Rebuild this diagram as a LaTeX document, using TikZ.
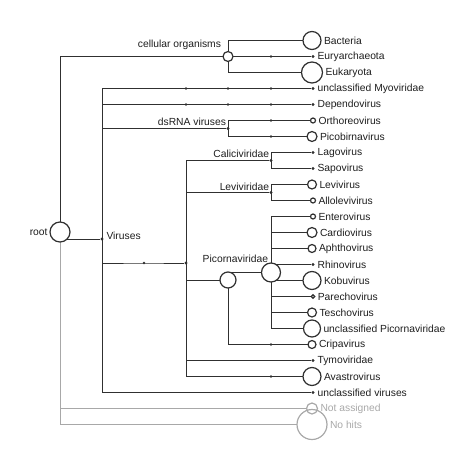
\documentclass[tikz,border=0pt]{standalone}
\usepackage{fontspec}
\setmainfont{Liberation Sans}
\definecolor{linec}{HTML}{303030}
\definecolor{txtc}{HTML}{1E1E1E}
\definecolor{grayc}{HTML}{A8A8A8}
\pgfdeclarelayer{bg}
\pgfsetlayers{bg,main}
\begin{document}
\begin{tikzpicture}[x=1pt,y=-1pt,
  every node/.style={inner sep=0pt, outer sep=0pt},
  label distance=3pt,
  tx/.style={font=\fontsize{10.3}{12}\selectfont, text=txtc},
  gtx/.style={font=\fontsize{10.3}{12}\selectfont, text=grayc},
  circ/.style={circle, draw=linec, fill=white, line width=1.2pt, minimum size=#1},
  gcirc/.style={circle, draw=grayc, line width=1.2pt, minimum size=#1},
  dotn/.style={circle, fill=linec, minimum size=3.2pt},
  tick/.style={circle, fill=linec, minimum size=2.8pt},
  lnk/.style={draw=linec, line width=1pt},
  glnk/.style={draw=grayc, line width=1pt},
]
\useasboundingbox (0,0) rectangle (474,474);

% internal nodes
\node[circ=20pt] (root) at (60,232) {};
\node[tx, anchor=east] (lroot) at (47.5,232) {root};
\node[circ=10pt] (cell) at (228,56.5) {};
\node[tx, anchor=east] (lcell) at (221,45) {cellular organisms};
\node[dotn] (vir) at (102,239) {};
\node[tx, anchor=west] (lvir) at (106.5,236) {Viruses};
\node[dotn] (dsrna) at (228,128.5) {};
\node[tx, anchor=east] (ldsrna) at (226,121.5) {dsRNA viruses};
\node[dotn] (ss) at (186,263) {};
\node[dotn] (calici) at (271,160.5) {};
\node[tx, anchor=east] (lcalici) at (269,154) {Caliciviridae};
\node[dotn] (levi) at (271,192.5) {};
\node[tx, anchor=east] (llevi) at (269,187) {Leviviridae};
\node[circ=16pt] (picales) at (228,280) {};
\node[circ=19pt] (picdae) at (271,272.5) {};
\node[tx, anchor=east] (lpicdae) at (268,258.5) {Picornaviridae};

% leaves
\node[circ=18pt, label={[tx]right:Bacteria}] (bact) at (312,40.5) {};
\node[dotn, label={[tx]right:Euryarchaeota}] (eury) at (313,56.5) {};
\node[circ=21pt, label={[tx]right:Eukaryota}] (euk) at (312,72.5) {};
\node[dotn, label={[tx]right:unclassified Myoviridae}] (umyo) at (313,88.5) {};
\node[dotn, label={[tx]right:Dependovirus}] (dep) at (313,104.5) {};
\node[circ=5pt, label={[tx]right:Orthoreovirus}] (ortho) at (313,120.5) {};
\node[circ=10pt, label={[tx]right:Picobirnavirus}] (picob) at (312,136.5) {};
\node[dotn, label={[tx]right:Lagovirus}] (lago) at (313,152.5) {};
\node[dotn, label={[tx]right:Sapovirus}] (sapo) at (313,168.5) {};
\node[circ=9pt, label={[tx]right:Levivirus}] (levv) at (312,184.5) {};
\node[circ=5pt, label={[tx]right:Allolevivirus}] (allo) at (313,200.5) {};
\node[circ=5pt, label={[tx]right:Enterovirus}] (entero) at (313,216.5) {};
\node[circ=10pt, label={[tx]right:Cardiovirus}] (cardio) at (312,232.5) {};
\node[circ=8pt, label={[tx]right:Aphthovirus}] (aphtho) at (312,248.5) {};
\node[dotn, label={[tx]right:Rhinovirus}] (rhino) at (313,264.5) {};
\node[circ=18pt, label={[tx]right:Kobuvirus}] (kobu) at (312,280.5) {};
\node[circ=3.5pt, label={[tx]right:Parechovirus}] (pare) at (313,296.5) {};
\node[circ=9pt, label={[tx]right:Teschovirus}] (tescho) at (312,312.5) {};
\node[circ=17pt, label={[tx]right:unclassified Picornaviridae}] (upic) at (312,328.5) {};
\node[circ=8pt, label={[tx]right:Cripavirus}] (cripa) at (312,344.5) {};
\node[dotn, label={[tx]right:Tymoviridae}] (tymo) at (313,360.5) {};
\node[circ=18pt, label={[tx]right:Avastrovirus}] (avas) at (312,376.5) {};
\node[dotn, label={[tx]right:unclassified viruses}] (uvir) at (313,392.5) {};
\node[gcirc=11pt, label={[gtx]right:Not assigned}] (na) at (312,408.5) {};
\node[gcirc=30pt, label={[gtx]right:No hits}] (nh) at (312,424.5) {};

% tick dots (collapsed intermediate ranks)
\node[tick] (te) at (271,56.5) {};
\node[tick] (tm1) at (186,88.5) {};
\node[tick] (tm2) at (228,88.5) {};
\node[tick] (tm3) at (271,88.5) {};
\node[tick] (td1) at (186,104.5) {};
\node[tick] (td2) at (228,104.5) {};
\node[tick] (td3) at (271,104.5) {};
\node[tick] (to) at (271,120.5) {};
\node[tick] (tp) at (271,136.5) {};
\node[tick] (tss) at (144,263) {};
\node[tick] (tc) at (271,344.5) {};
\node[tick] (ta) at (271,376.5) {};

\begin{pgfonlayer}{bg}
\draw[glnk] (root.center) |- (na);
\draw[glnk] (root.center) |- (nh);
\draw[lnk] (root.center) |- (cell);
\draw[lnk] (root.center) |- (vir);
\draw[lnk] (cell.center) |- (bact);
\draw[lnk] (cell.center) -- (te.center) -- (eury);
\draw[lnk] (cell.center) |- (euk);
\draw[lnk] (vir.center) |- (tm1.center) -- (tm2.center) -- (tm3.center) -- (umyo);
\draw[lnk] (vir.center) |- (td1.center) -- (td2.center) -- (td3.center) -- (dep);
\draw[lnk] (vir.center) |- (dsrna);
\draw[lnk] (dsrna.center) |- (to.center) -- (ortho);
\draw[lnk] (dsrna.center) |- (tp.center) -- (picob);
\draw[lnk] (vir.center) |- (tss.center) -- (ss);
\draw[lnk] (vir.center) |- (uvir);
\draw[lnk] (ss.center) |- (calici);
\draw[lnk] (ss.center) |- (levi);
\draw[lnk] (ss.center) |- (picales);
\draw[lnk] (ss.center) |- (tymo);
\draw[lnk] (ss.center) |- (ta.center) -- (avas);
\draw[lnk] (calici.center) |- (lago);
\draw[lnk] (calici.center) |- (sapo);
\draw[lnk] (levi.center) |- (levv);
\draw[lnk] (levi.center) |- (allo);
\draw[lnk] (picales.center) |- (picdae);
\draw[lnk] (picales.center) |- (tc.center) -- (cripa);
\foreach \leaf in {entero,cardio,aphtho,rhino,kobu,pare,tescho,upic}
  \draw[lnk] (picdae.center) |- (\leaf);
\end{pgfonlayer}
\end{tikzpicture}
\end{document}
